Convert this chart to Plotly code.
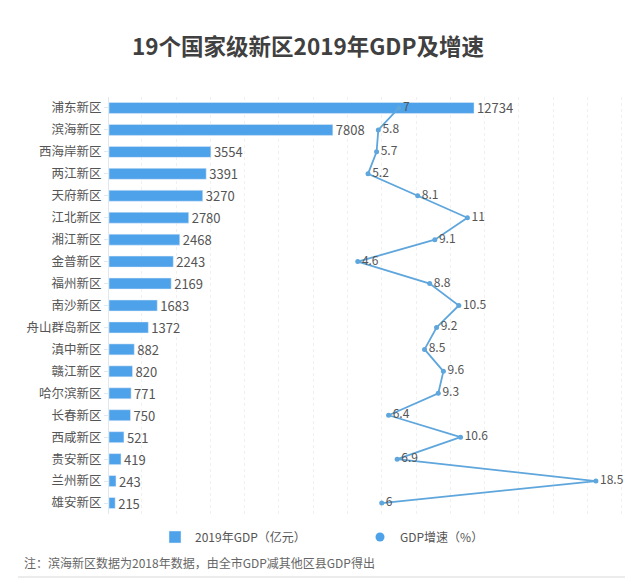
import plotly.graph_objects as go

regions = ["浦东新区", "滨海新区", "西海岸新区", "两江新区", "天府新区", "江北新区", "湘江新区",
           "金普新区", "福州新区", "南沙新区", "舟山群岛新区", "滇中新区", "赣江新区", "哈尔滨新区",
           "长春新区", "西咸新区", "贵安新区", "兰州新区", "雄安新区"]
gdp_2019 = [12734, 7808, 3554, 3391, 3270, 2780, 2468, 2243, 2169, 1683, 1372, 882, 820, 771,
            750, 521, 419, 243, 215]
gdp_growth = [7, 5.8, 5.7, 5.2, 8.1, 11, 9.1, 4.6, 8.8, 10.5, 9.2, 8.5, 9.6, 9.3, 6.4, 10.6,
              6.9, 18.5, 6]
growth_labels = ["7", "5.8", "5.7", "5.2", "8.1", "11", "9.1", "4.6", "8.8", "10.5", "9.2", "8.5",
                 "9.6", "9.3", "6.4", "10.6", "6.9", "18.5", "6"]

FONT = "Noto Sans CJK SC"
BAR_COLOR = "#4ea2ea"
LINE_COLOR = "#5ea6dc"

fig = go.Figure()
fig.add_trace(go.Bar(
    x=gdp_2019, y=regions, orientation="h", name="2019年GDP（亿元）",
    marker=dict(color=BAR_COLOR), width=0.5,
    text=[str(v) for v in gdp_2019], textposition="outside", constraintext="none",
    textfont=dict(size=13, color="#555555", family=FONT), cliponaxis=False,
    legend="legend",
))
fig.add_trace(go.Scatter(
    x=gdp_growth, y=regions, xaxis="x2", mode="lines+markers+text",
    line=dict(color=LINE_COLOR, width=1.8), marker=dict(size=5, color=LINE_COLOR),
    text=growth_labels, textposition="middle right",
    textfont=dict(size=12, color="#555555", family=FONT),
    showlegend=False, cliponaxis=False,
))
fig.add_trace(go.Scatter(
    x=[None], y=[None], xaxis="x2", mode="markers", name="GDP增速（%）",
    marker=dict(size=9, color=BAR_COLOR), legend="legend2",
))

legend_common = dict(orientation="h", xanchor="left", yref="container",
                     y=1 - 537 / 579, yanchor="middle",
                     font=dict(size=12, color="#555555", family=FONT),
                     bgcolor="rgba(0,0,0,0)")

fig.update_layout(
    width=640, height=579,
    margin=dict(l=109, r=15, t=97, b=65, autoexpand=False),
    paper_bgcolor="white", plot_bgcolor="white",
    font=dict(family=FONT, color="#555555"),
    title=dict(text="<b>19个国家级新区2019年GDP及增速</b>", x=308 / 640, xanchor="center",
               y=1 - 47 / 579, yanchor="middle",
               font=dict(size=22.5, color="#404040", family=FONT)),
    xaxis=dict(range=[0, 18000], showticklabels=False, showgrid=False, zeroline=False,
               showline=False),
    xaxis2=dict(range=[-9.92, 20.2], overlaying="x", side="top", showticklabels=False,
                showgrid=True, gridcolor="#f0f0f0", griddash="dot", dtick=2, tick0=0,
                zeroline=False, showline=False),
    yaxis=dict(autorange=False, range=[18.5, -0.5], showline=True, linecolor="#dde8f2",
               linewidth=1, ticks="outside", ticklen=4, tickcolor="#dde8f2",
               tickfont=dict(size=12.5, color="#555555", family=FONT), showgrid=False),
    legend=dict(x=(155 - 109) / 516, **legend_common),
    legend2=dict(x=(360 - 109) / 516, **legend_common),
    showlegend=True,
    bargap=0.5,
)

fig.add_annotation(text="注：滨海新区数据为2018年数据，由全市GDP减其他区县GDP得出",
                   xref="paper", yref="paper", x=-87 / 516, y=-48 / 417,
                   xanchor="left", yanchor="middle", showarrow=False,
                   font=dict(size=12, color="#666666", family=FONT))
fig.add_shape(type="line", xref="paper", yref="paper", x0=-91 / 516, x1=1.0,
              y0=-63 / 417, y1=-63 / 417, line=dict(color="#d8d8d8", width=1))

fig.write_html("out.html")
